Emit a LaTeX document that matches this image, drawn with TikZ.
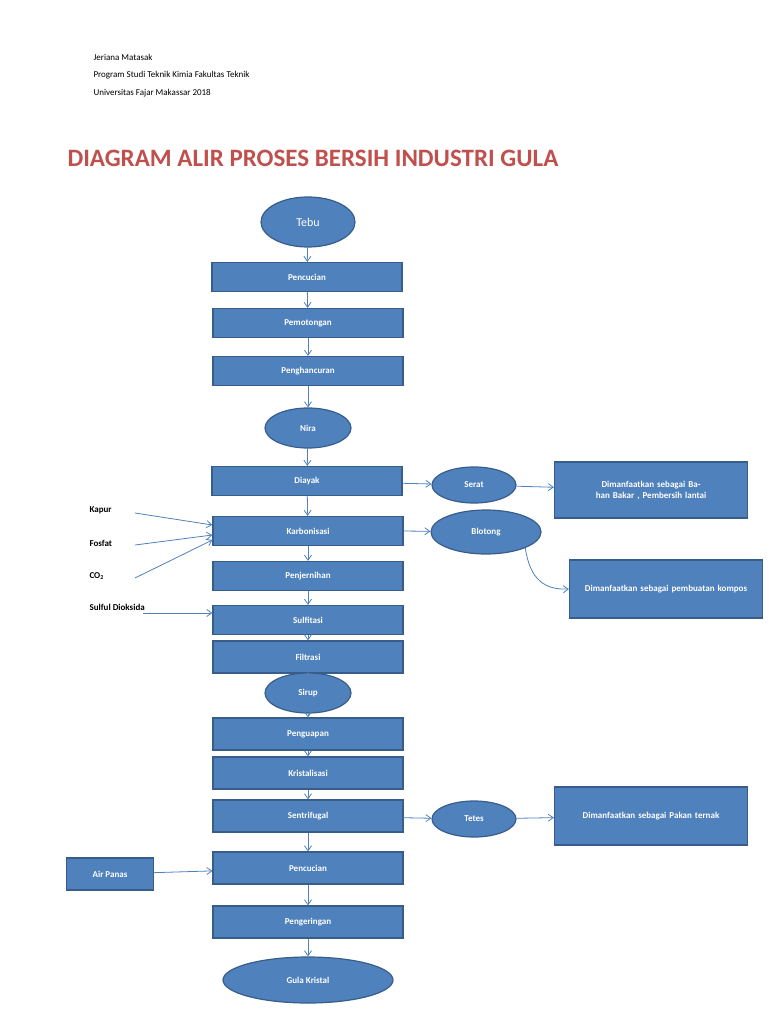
\documentclass[tikz,border=0pt]{standalone}
\usepackage{fontspec}
\setmainfont{Carlito}
\usetikzlibrary{shapes.geometric,arrows.meta}
\definecolor{bf}{HTML}{4F81BD}
\definecolor{bd}{HTML}{385D8A}
\definecolor{tr}{HTML}{C0504D}
\begin{document}
\begin{tikzpicture}[x=1pt,y=-1pt,
 box/.style={draw=bd,line width=1.2pt,fill=bf,text=white,font=\bfseries\small,minimum width=190pt,minimum height=29pt,inner sep=0pt},
 rbox/.style={draw=bd,line width=1.2pt,fill=bf,text=white,font=\bfseries\small,minimum width=193pt,minimum height=56pt,align=center,text width=175pt},
 ell/.style={ellipse,draw=bd,line width=1.2pt,fill=bf,text=white,font=\bfseries\small,inner sep=0pt},
 arr/.style={-{Straight Barb[length=5pt,width=7pt]},draw=bf,line width=0.8pt},
 lab/.style={font=\bfseries\small,anchor=west}]
\useasboundingbox (0,0) rectangle (768,1024);
\node[anchor=west,font=\small] (h1) at (90,57) {Jeriana Matasak};
\node[anchor=west,font=\small] (h2) at (90,75) {Program Studi Teknik Kimia Fakultas Teknik};
\node[anchor=west,font=\small] (h3) at (90,93) {Universitas Fajar Makassar 2018};
\node[anchor=west,font=\bfseries\fontsize{25}{25}\selectfont,text=tr,draw=none] (title) at (64,158) {DIAGRAM ALIR PROSES BERSIH INDUSTRI GULA};

\node[ell,minimum width=94pt,minimum height=50pt,font=\large] (tebu) at (308,222) {Tebu};
\node[box] (b1) at (307,277) {Pencucian};
\node[box] (b2) at (308,323) {Pemotongan};
\node[box] (b3) at (308,371) {Penghancuran};
\node[ell,minimum width=86pt,minimum height=40pt] (nira) at (308,428) {Nira};
\node[box] (b4) at (307,481) {Diayak};
\node[box] (b5) at (308,531) {Karbonisasi};
\node[box] (b6) at (308,576) {Penjernihan};
\node[box] (b7) at (308,620) {Sulfitasi};
\node[box,minimum height=32pt] (b8) at (308,657) {Filtrasi};
\node[ell,minimum width=86pt,minimum height=40pt] (sirup) at (308,693) {Sirup};
\node[box,minimum height=32pt] (b9) at (308,734) {Penguapan};
\node[box,minimum height=32pt] (b10) at (308,773) {Kristalisasi};
\node[box,minimum height=32pt] (b11) at (308,816) {Sentrifugal};
\node[box,minimum height=32pt] (b12) at (308,868) {Pencucian};
\node[box,minimum height=32pt] (b13) at (308,922) {Pengeringan};
\node[ell,minimum width=170pt,minimum height=46pt] (gula) at (308,980) {Gula Kristal};

\node[ell,minimum width=84pt,minimum height=36pt] (serat) at (474,485) {Serat};
\node[rbox] (r1) at (651,490) {Dimanfaatkan sebagai Bahan Bakar , Pembersih lantai};
\node[ell,minimum width=110pt,minimum height=44pt] (blot) at (486,532) {Blotong};
\node[rbox,minimum height=58pt] (r2) at (666,589) {Dimanfaatkan sebagai pembuatan kompos};
\node[ell,minimum width=84pt,minimum height=36pt] (tetes) at (474,819) {Tetes};
\node[rbox,minimum height=58pt] (r3) at (651,816) {Dimanfaatkan sebagai Pakan ternak};
\node[box,minimum width=87pt,minimum height=32pt] (air) at (110,874) {Air Panas};

\node[lab] (kapur) at (86,510) {Kapur};
\node[lab] (fosfat) at (86,543) {Fosfat};
\node[lab] (co2) at (86,576) {CO\textsubscript{2}};
\node[lab] (so2) at (86,607) {Sulful Dioksida};
\coordinate (k1) at (135,513);
\coordinate (f1) at (135,545);
\coordinate (c1) at (135,578);
\coordinate (s1) at (143,613);

\draw[arr] (tebu) -- (b1);
\draw[arr] (b1) -- (b2);
\draw[arr] (b2) -- (b3);
\draw[arr] (b3) -- (nira);
\draw[arr] (nira) -- (b4);
\draw[arr] (b4) -- (b5);
\draw[arr] (b5) -- (b6);
\draw[arr] (b6) -- (b7);
\draw[arr] (b7) -- (b8);
\draw[arr] (b8) -- (sirup);
\draw[arr] (sirup) -- (b9);
\draw[arr] (b9) -- (b10);
\draw[arr] (b10) -- (b11);
\draw[arr] (b11) -- (b12);
\draw[arr] (b12) -- (b13);
\draw[arr] (b13) -- (gula);
\draw[arr] (b4) -- (serat);
\draw[arr] (serat) -- (r1);
\draw[arr] (b5.east) -- (blot);
\draw[arr] (blot.south east) .. controls (530,580) and (545,590) .. (r2.west);
\draw[arr] (b11) -- (tetes);
\draw[arr] (tetes) -- (r3);
\draw[arr] (air) -- (b12);
\draw[arr] (k1) -- (b5.west |- 0,525);
\draw[arr] (f1) -- (b5.west |- 0,535);
\draw[arr] (c1) -- (b5.west |- 0,540);
\draw[arr] (s1) -- (b7.west |- 0,613);
\end{tikzpicture}
\end{document}
